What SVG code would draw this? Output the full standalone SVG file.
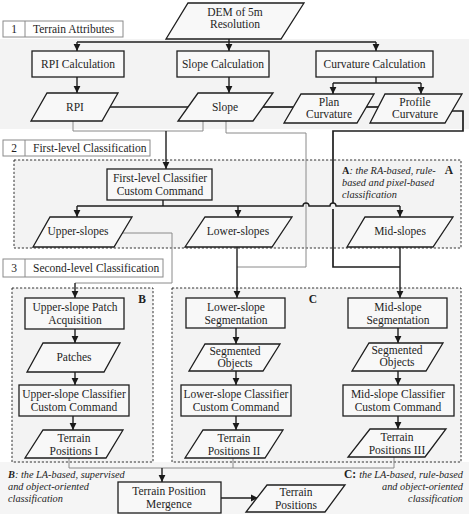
<svg xmlns="http://www.w3.org/2000/svg" width="474" height="521" viewBox="0 0 474 521">
<defs>
<marker id="ar" markerUnits="userSpaceOnUse" markerWidth="8" markerHeight="8" refX="7" refY="4" orient="auto">
<path d="M0,0.6 L7,4 L0,7.4 z" fill="#1a1a1a"/>
</marker>
</defs>
<style>
.box{fill:#f8f8f8;stroke:#1e1e1e;stroke-width:1.3}
.lbl{fill:#fff;stroke:#8a8a8a;stroke-width:1}
.dash{fill:#f3f3f3;stroke:#333;stroke-width:1;stroke-dasharray:2.2,1.8}
text{font-family:"Liberation Serif","Times New Roman",serif;font-size:11.5px;fill:#1e1e1e}
.c{text-anchor:middle}
.cap{font-style:italic;font-size:10.3px}
.ln{fill:none;stroke:#1e1e1e;stroke-width:1.4}
.thk{fill:none;stroke:#1e1e1e;stroke-width:1.7}
.thin{fill:none;stroke:#8a8a8a;stroke-width:1}
.arr{fill:none;stroke:#1e1e1e;stroke-width:1.4;marker-end:url(#ar)}
</style>
<rect width="474" height="521" fill="#fff"/>
<rect x="0" y="39" width="469" height="90" fill="#f3f3f3"/>
<rect x="0" y="462" width="469" height="52" fill="#f5f5f5"/>

<g id="regionA"><rect class="dash" x="14" y="160" width="447" height="88"/></g>
<g id="regionB"><rect class="dash" x="12" y="288" width="141" height="174"/></g>
<g id="regionC"><rect class="dash" x="172" y="288" width="289" height="174"/></g>

<g id="connectors">
<line class="ln" x1="229" y1="39" x2="229" y2="42"/>
<line class="ln" x1="77" y1="42" x2="376" y2="42"/>
<line class="arr" x1="77" y1="42" x2="77" y2="51"/>
<line class="arr" x1="229" y1="42" x2="229" y2="51"/>
<line class="arr" x1="376" y1="42" x2="376" y2="51"/>
<line class="arr" x1="77" y1="77" x2="77" y2="93"/>
<line class="arr" x1="229" y1="77" x2="229" y2="93"/>
<polyline class="ln" points="376,77 376,83"/>
<line class="ln" x1="333" y1="83" x2="421" y2="83"/>
<line class="arr" x1="333" y1="83" x2="333" y2="94"/>
<line class="arr" x1="421" y1="83" x2="421" y2="94"/>
<line class="thk" x1="110" y1="107" x2="188" y2="107"/>
<line class="thk" x1="263" y1="107" x2="293" y2="107"/>
<line class="thk" x1="366" y1="107" x2="378" y2="107"/>
<polyline class="thk" points="451,111 463,111 463,131 333,131 333,203"/>
<polyline class="thk" points="333,209 333,267 400,267"/>
<polyline class="thin" points="73,121 73,131 203,131 203,121"/>
<line class="arr" x1="166" y1="131" x2="166" y2="169"/>
<polyline class="thin" points="226,121 226,133 306,133 306,267 237,267"/>
<line class="ln" x1="163" y1="200" x2="163" y2="206"/>
<path class="ln" d="M77,206 H303 a3,3 0 0 1 6,0 H330 a3,3 0 0 1 6,0 H400"/>
<line class="arr" x1="77" y1="206" x2="77" y2="217"/>
<line class="arr" x1="238" y1="206" x2="238" y2="217"/>
<line class="arr" x1="400" y1="206" x2="400" y2="217"/>
<polyline class="thin" points="121,233 172,233 172,283 75,283"/>
<line class="arr" x1="75" y1="283" x2="75" y2="298"/>
<line class="arr" x1="237" y1="247" x2="237" y2="298"/>
<line class="arr" x1="400" y1="247" x2="400" y2="298"/>
<line class="arr" x1="75" y1="329" x2="75" y2="343"/>
<line class="arr" x1="75" y1="372" x2="75" y2="385"/>
<line class="arr" x1="73" y1="416" x2="73" y2="430"/>
<line class="arr" x1="236" y1="328" x2="236" y2="344"/>
<line class="arr" x1="236" y1="371" x2="236" y2="385"/>
<line class="arr" x1="236" y1="416" x2="236" y2="430"/>
<line class="arr" x1="398" y1="328" x2="398" y2="343"/>
<line class="arr" x1="398" y1="371" x2="398" y2="385"/>
<line class="arr" x1="398" y1="416" x2="398" y2="429"/>
<polyline class="thin" points="69,458 69,468 394,468 394,457"/>
<line class="thin" x1="233" y1="458" x2="233" y2="468"/>
<line class="arr" x1="162" y1="468" x2="162" y2="482"/>
<line class="arr" x1="221" y1="498" x2="258" y2="498"/>
</g>

<g id="label1"><rect class="lbl" x="3" y="21" width="120" height="16"/><line class="lbl" x1="25" y1="21" x2="25" y2="37"/><text x="14" y="33" class="c">1</text><text x="33" y="33">Terrain Attributes</text></g>
<g id="label2"><rect class="lbl" x="3" y="140" width="147" height="16"/><line class="lbl" x1="25" y1="140" x2="25" y2="156"/><text x="14" y="152" class="c">2</text><text x="33" y="152">First-level Classification</text></g>
<g id="label3"><rect class="lbl" x="3" y="259" width="160" height="18"/><line class="lbl" x1="25" y1="259" x2="25" y2="277"/><text x="14" y="272" class="c">3</text><text x="33" y="272">Second-level Classification</text></g>

<g id="dem"><polygon class="box" points="188,3 304,3 281,39 166,39"/><text x="235" y="16" class="c">DEM of 5m</text><text x="235" y="28" class="c">Resolution</text></g>
<g id="rpiCalc"><rect class="box" x="32" y="51" width="92" height="26"/><text x="78" y="68" class="c">RPI Calculation</text></g>
<g id="slopeCalc"><rect class="box" x="177" y="51" width="92" height="26"/><text x="223" y="68" class="c">Slope Calculation</text></g>
<g id="curvCalc"><rect class="box" x="316" y="51" width="117" height="26"/><text x="374.5" y="68" class="c">Curvature Calculation</text></g>
<g id="rpi"><polygon class="box" points="47,93 118,93 102,121 31,121"/><text x="75" y="111" class="c">RPI</text></g>
<g id="slope"><polygon class="box" points="198,93 273,93 253,121 178,121"/><text x="225" y="111" class="c">Slope</text></g>
<g id="planCurv"><polygon class="box" points="301,94 374,94 357,123 284,123"/><text x="329" y="106" class="c">Plan</text><text x="329" y="118" class="c">Curvature</text></g>
<g id="profCurv"><polygon class="box" points="385,94 462,94 445,123 370,123"/><text x="415" y="106" class="c">Profile</text><text x="415" y="118" class="c">Curvature</text></g>

<g id="firstClassifier"><rect class="box" x="107" y="169" width="105" height="31"/><text x="160" y="182" class="c">First-level Classifier</text><text x="160" y="195" class="c">Custom Command</text></g>
<g id="upperSlopes"><polygon class="box" points="50,217 132,217 114,247 33,247"/><text x="78" y="235" class="c">Upper-slopes</text></g>
<g id="lowerSlopes"><polygon class="box" points="205,217 292,217 272,247 185,247"/><text x="238" y="235" class="c">Lower-slopes</text></g>
<g id="midSlopes"><polygon class="box" points="365,217 453,217 433,247 347,247"/><text x="400" y="235" class="c">Mid-slopes</text></g>
<g id="captionA"><text x="342" y="174" class="cap"><tspan font-weight="bold" font-style="normal">A</tspan>: the RA-based, rule-</text><text x="342" y="186" class="cap">based and pixel-based</text><text x="342" y="198" class="cap">classification</text><text x="449" y="174" class="c" font-weight="bold">A</text></g>

<g id="patchAcq"><rect class="box" x="25" y="298" width="99" height="31"/><text x="75" y="311" class="c">Upper-slope Patch</text><text x="75" y="324" class="c">Acquisition</text></g>
<g id="patches"><polygon class="box" points="43,343 120,343 104,372 27,372"/><text x="74" y="361" class="c">Patches</text></g>
<g id="upperClassifier"><rect class="box" x="19" y="385" width="110" height="31"/><text x="74" y="398" class="c">Upper-slope Classifier</text><text x="74" y="411" class="c">Custom Command</text></g>
<g id="tp1"><polygon class="box" points="43,430 123,430 106,458 25,458"/><text x="74" y="442" class="c">Terrain</text><text x="74" y="455" class="c">Positions I</text></g>
<text x="142" y="303" class="c" font-weight="bold">B</text>

<g id="lowerSeg"><rect class="box" x="186" y="298" width="99" height="30"/><text x="236" y="311" class="c">Lower-slope</text><text x="236" y="324" class="c">Segmentation</text></g>
<g id="segObjLower"><polygon class="box" points="205,344 280,344 263,371 189,371"/><text x="235" y="355" class="c">Segmented</text><text x="235" y="367" class="c">Objects</text></g>
<g id="lowerClassifier"><rect class="box" x="181" y="385" width="110" height="31"/><text x="236" y="398" class="c">Lower-slope Classifier</text><text x="236" y="411" class="c">Custom Command</text></g>
<g id="tp2"><polygon class="box" points="203,430 283,430 265,458 185,458"/><text x="234" y="442" class="c">Terrain</text><text x="234" y="455" class="c">Positions II</text></g>
<text x="313" y="303" class="c" font-weight="bold">C</text>

<g id="midSeg"><rect class="box" x="348" y="298" width="99" height="30"/><text x="398" y="311" class="c">Mid-slope</text><text x="398" y="324" class="c">Segmentation</text></g>
<g id="segObjMid"><polygon class="box" points="369,343 443,343 426,371 352,371"/><text x="397" y="354" class="c">Segmented</text><text x="397" y="366" class="c">Objects</text></g>
<g id="midClassifier"><rect class="box" x="343" y="385" width="111" height="31"/><text x="398" y="398" class="c">Mid-slope Classifier</text><text x="398" y="411" class="c">Custom Command</text></g>
<g id="tp3"><polygon class="box" points="370,429 446,429 425,457 348,457"/><text x="397" y="441" class="c">Terrain</text><text x="397" y="454" class="c">Positions III</text></g>

<g id="captionB"><text x="8" y="478" class="cap"><tspan font-weight="bold">B</tspan>: the LA-based, supervised</text><text x="8" y="490" class="cap">and object-oriented</text><text x="8" y="502" class="cap">classification</text></g>
<g id="captionC"><text x="344" y="478" font-size="10.3px" font-weight="bold">C:</text><text x="463" y="478" class="cap" text-anchor="end">the LA-based, rule-based</text><text x="463" y="490" class="cap" text-anchor="end">and object-oriented</text><text x="463" y="502" class="cap" text-anchor="end">classification</text></g>

<g id="mergence"><rect class="box" x="118" y="482" width="103" height="31"/><text x="169" y="495" class="c">Terrain Position</text><text x="169" y="508" class="c">Mergence</text></g>
<g id="terrainPositions"><polygon class="box" points="267,485 345,485 325,512 246,512"/><text x="296" y="496" class="c">Terrain</text><text x="296" y="509" class="c">Positions</text></g>
</svg>
